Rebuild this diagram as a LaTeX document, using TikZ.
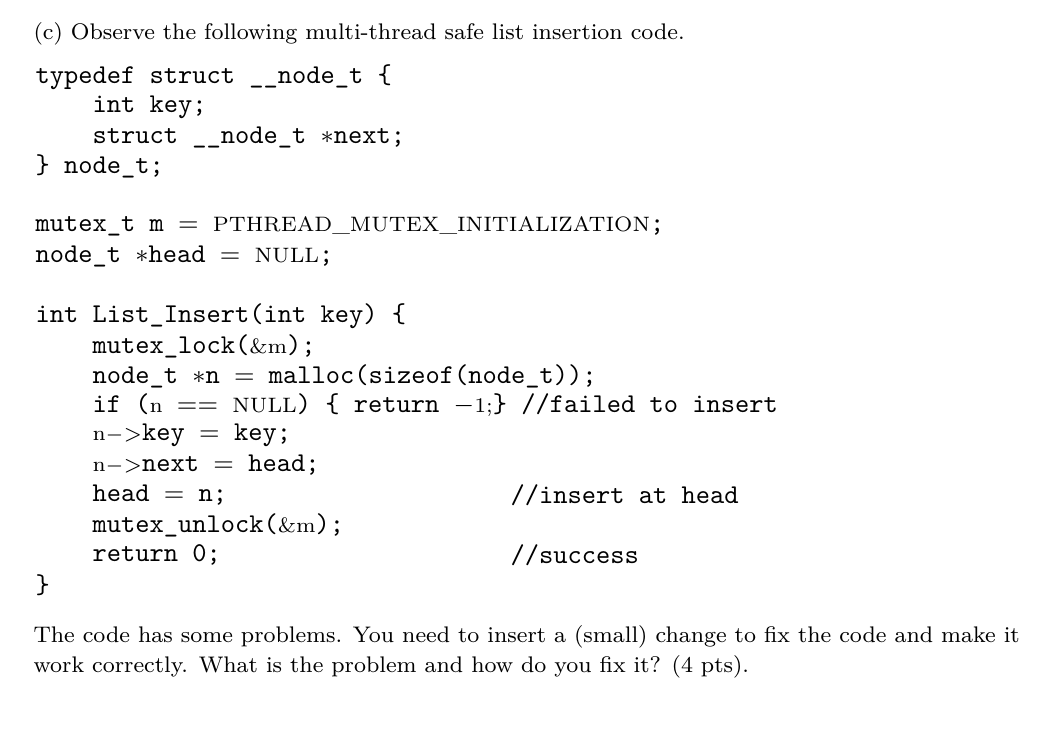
\documentclass[tikz,border=0pt]{standalone}
\newcommand{\rmc}[1]{{\rmfamily\fontsize{7.3}{9}\selectfont #1}}
\begin{document}
\begin{tikzpicture}[x=0.35pt,y=-0.35pt,
  t/.style={anchor=west,inner sep=0pt,font=\rmfamily\fontsize{7.9}{10}\selectfont},
  c/.style={anchor=west,inner sep=0pt,font=\ttfamily\fontsize{9.5}{11}\selectfont}]
\useasboundingbox (0,0) rectangle (1058,736);
\node[t] (l0) at (33,34) {(c) Observe the following multi-thread safe list insertion code.};
\node[c] (l1) at (35,77) {typedef struct \_\_node\_t \{};
\node[c] (l2) at (92,107) {int key;};
\node[c] (l3) at (92,137) {struct \_\_node\_t $*$next;};
\node[c] (l4) at (35,166) {\} node\_t;};
\node[c] (l5) at (35,226) {mutex\_t m $=$ \rmc{PTHREAD\_MUTEX\_INITIALIZATION};};
\node[c] (l6) at (35,256) {node\_t $*$head $=$ \rmc{NULL};};
\node[c] (l7) at (35,316) {int List\_Insert(int key) \{};
\node[c] (l8) at (92,346) {mutex\_lock(\rmc{\&m});};
\node[c] (l9) at (92,376) {node\_t $*$n $=$ malloc(sizeof(node\_t));};
\node[c] (l10) at (92,405) {if (\rmc{n} $==$ \rmc{NULL}) \{ return $-$\rmc{1;}\} //failed to insert};
\node[c] (l11) at (92,435) {\rmc{n$-$>}key $=$ key;};
\node[c] (l12) at (92,465) {\rmc{n$-$>}next $=$ head;};
\node[c] (l13) at (92,495) {head $=$ n;};
\node[c] (c13) at (510,495) {//insert at head};
\node[c] (l14) at (92,525) {mutex\_unlock(\rmc{\&m});};
\node[c] (l15) at (92,555) {return 0;};
\node[c] (c15) at (510,555) {//success};
\node[c] (l16) at (35,585) {\}};
\node[t] (p1) at (33,637) {The code has some problems. You need to insert a (small) change to fix the code and make it};
\node[t] (p2) at (33,667) {work correctly. What is the problem and how do you fix it? (4 pts).};
\end{tikzpicture}
\end{document}
